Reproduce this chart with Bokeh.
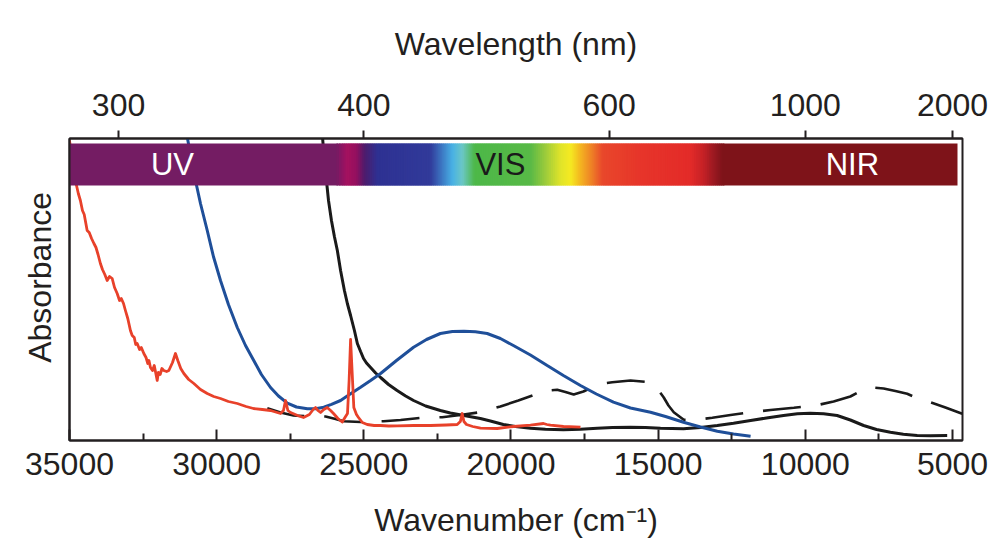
import numpy as np
from bokeh.plotting import figure
from bokeh.models import Range1d, LinearAxis, FixedTicker, CustomJSTickFormatter, ColumnDataSource
from bokeh.core.properties import value
from bokeh.embed import file_html
from bokeh.resources import INLINE

FONT = "Liberation Sans"
INK = "#231f20"

# ---- spectra: wavenumber (cm^-1) vs absorbance (arbitrary units) ----
red_wn = [35000, 34900, 34800, 34700, 34630, 34560, 34500, 34400, 34330, 34250,
          34170, 34100, 34030, 33950, 33880, 33800, 33720, 33640, 33550, 33470,
          33380, 33300, 33240, 33165, 33100, 33020, 32960, 32930, 32870, 32800,
          32750, 32700, 32620, 32560, 32475, 32400, 32340, 32300, 32250, 32180,
          32120, 32060, 32020, 31980, 31920, 31860, 31800, 31700, 31625, 31500,
          31400, 31320, 31220, 31115, 30950, 30775, 30550, 30320, 30100, 29870,
          29600, 29300, 29000, 28750, 28450, 28170, 27830, 27730, 27660, 27580,
          27490, 27250, 27050, 26850, 26720, 26640, 26560, 26470, 26360, 26245,
          26130, 26030, 25880, 25735, 25620, 25555, 25500, 25450, 25400, 25340,
          25250, 25181, 25050, 24885, 24650, 24435, 24150, 23867, 23300, 22735,
          22200, 21828, 21720, 21658, 21600, 21512, 21300, 21036, 20469, 19915,
          19337, 18896, 18780, 18658, 18216, 17638]
red_abs = [3.00, 2.78, 2.60, 2.47, 2.40, 2.30, 2.26, 2.10, 2.08, 2.02,
           1.97, 1.93, 1.86, 1.77, 1.71, 1.66, 1.60, 1.64, 1.62, 1.53,
           1.47, 1.40, 1.42, 1.37, 1.30, 1.22, 1.14, 1.10, 1.05, 1.03,
           0.96, 0.97, 0.91, 0.93, 0.87, 0.83, 0.77, 0.80, 0.73, 0.70,
           0.75, 0.66, 0.60, 0.68, 0.66, 0.72, 0.70, 0.69, 0.70, 0.78,
           0.87, 0.80, 0.72, 0.67, 0.61, 0.57, 0.51, 0.47, 0.44, 0.42,
           0.39, 0.37, 0.34, 0.32, 0.31, 0.30, 0.27, 0.30, 0.40, 0.30,
           0.28, 0.25, 0.23, 0.26, 0.31, 0.33, 0.30, 0.28, 0.31, 0.33,
           0.30, 0.27, 0.22, 0.185, 0.24, 0.27, 0.60, 1.01, 0.70, 0.33,
           0.26, 0.23, 0.18, 0.16, 0.15, 0.15, 0.145, 0.147, 0.15, 0.15,
           0.155, 0.16, 0.19, 0.27, 0.19, 0.16, 0.14, 0.123, 0.12, 0.14,
           0.153, 0.17, 0.16, 0.153, 0.14, 0.133]

blue_wn = [30990, 30855, 30720, 30550, 30320, 30110, 29870, 29600, 29300, 29020,
           28740, 28480, 28170, 27900, 27600, 27290, 26920, 26640, 26360, 26100,
           25790, 25450, 25110, 24770, 24430, 23890, 23310, 22870, 22400, 21990,
           21600, 21210, 20810, 20360, 19920, 19340, 18770, 18220, 17640, 17100,
           16520, 15940, 15260, 14750, 14140, 13560, 12990, 12440, 11860]
blue_abs = [3.02, 2.80, 2.60, 2.37, 2.10, 1.84, 1.60, 1.36, 1.13, 0.95,
            0.80, 0.66, 0.53, 0.445, 0.373, 0.335, 0.317, 0.318, 0.333, 0.362,
            0.40, 0.467, 0.533, 0.60, 0.67, 0.80, 0.933, 1.01, 1.07, 1.09,
            1.093, 1.087, 1.07, 1.02, 0.95, 0.855, 0.75, 0.65, 0.55, 0.465,
            0.383, 0.325, 0.283, 0.24, 0.183, 0.135, 0.093, 0.065, 0.043]

black_wn = [26400, 26340, 26270, 26200, 26100, 26000, 25900, 25790, 25660, 25560,
            25450, 25320, 25220, 25110, 25010, 24910, 24770, 24600, 24430, 24160,
            23870, 23580, 23310, 22900, 22400, 22060, 21600, 21040, 20700, 20260,
            19850, 19340, 18830, 18220, 17640, 17070, 16550, 15940, 15430, 14920,
            14140, 13560, 12990, 12440, 11860, 11320, 10740, 10270, 9830, 9380,
            8920, 8470, 8020, 7580, 7110, 6670, 6200, 5750, 5180]
black_abs = [3.02, 2.80, 2.60, 2.40, 2.20, 2.04, 1.90, 1.70, 1.50, 1.37,
             1.25, 1.10, 0.97, 0.89, 0.82, 0.775, 0.73, 0.675, 0.63, 0.56,
             0.50, 0.445, 0.40, 0.345, 0.30, 0.275, 0.25, 0.22, 0.195, 0.16,
             0.14, 0.123, 0.112, 0.107, 0.113, 0.123, 0.13, 0.133, 0.13, 0.123,
             0.117, 0.13, 0.15, 0.173, 0.20, 0.225, 0.25, 0.267, 0.273, 0.267,
             0.25, 0.205, 0.15, 0.11, 0.083, 0.062, 0.05, 0.048, 0.05]

dashed_wn = [28280, 27830, 27390, 26810, 26300, 25960, 25690, 25110, 24330, 23750,
             23020, 22340, 21720, 21040, 20360, 19750, 19110, 18730, 18430, 18150,
             17870, 17540, 17190, 16890, 16560, 15940, 15320, 15060, 14810, 14650,
             14470, 14130, 13660, 13160, 12540, 11860, 11180, 10390, 9650, 9040,
             8470, 8130, 7840, 7340, 6940, 6540, 6220, 5860, 5240, 4670]
dashed_abs = [0.323, 0.28, 0.25, 0.24, 0.24, 0.215, 0.193, 0.185, 0.193, 0.205,
              0.227, 0.233, 0.255, 0.283, 0.34, 0.40, 0.467, 0.50, 0.507, 0.485,
              0.46, 0.49, 0.54, 0.57, 0.583, 0.60, 0.583, 0.53, 0.43, 0.35,
              0.283, 0.207, 0.21, 0.227, 0.255, 0.283, 0.305, 0.327, 0.35, 0.39,
              0.44, 0.495, 0.533, 0.52, 0.495, 0.467, 0.425, 0.393, 0.33, 0.267]

# ---- axes ----
wavenumber_ticks = [35000, 30000, 25000, 20000, 15000, 10000, 5000]
wavenumber_minor = [32500, 27500, 22500, 17500, 12500, 7500]
wavelength_ticks_nm = [300, 400, 600, 1000, 2000]

# ---- spectral band strip ----
band_labels = ["UV", "VIS", "NIR"]
band_label_wn = [31500, 20360, 8400]
band_label_colors = ["white", "#1a1a1a", "white"]
strip_start, strip_end = 35000, 4830
strip_bottom, strip_top = 2.55, 2.97
strip_stops = [
    (35000, "#741c63"), (25930, "#741c63"), (25760, "#8c1463"), (25560, "#a6115f"),
    (25250, "#93105f"), (24980, "#4e1b6b"), (24540, "#2e3192"), (22740, "#313a9a"),
    (22400, "#3b6fbe"), (21990, "#48b1e5"), (21650, "#6cc7c6"), (21240, "#4db848"),
    (19340, "#58b947"), (18830, "#9ccb3b"), (18320, "#e0e42a"), (17980, "#f5ea21"),
    (17640, "#f4b520"), (17230, "#ee7c27"), (16890, "#e8472b"), (15600, "#e7352a"),
    (13900, "#e32b29"), (13460, "#c52126"), (13150, "#9f1a22"), (12810, "#7e1319"),
    (4830, "#7e1319"),
]


def hex_to_rgb(h):
    h = h.lstrip("#")
    return np.array([int(h[i:i + 2], 16) for i in (0, 2, 4)], dtype=float)


def rgb_to_hex(c):
    return "#%02x%02x%02x" % tuple(int(round(v)) for v in c)


# thin slices with linearly blended colours between neighbouring stops;
# each slice overlaps the next one slightly so no seams show through
sl_left, sl_right, sl_color = [], [], []
for (w0, c0), (w1, c1) in zip(strip_stops[:-1], strip_stops[1:]):
    same = c0 == c1
    n = 1 if same else max(1, int(abs(w0 - w1) / 60))
    a, b = hex_to_rgb(c0), hex_to_rgb(c1)
    edges = np.linspace(w0, w1, n + 1)
    for i in range(n):
        t = (i + 0.5) / n
        sl_left.append(edges[i])
        sl_right.append(max(strip_end, edges[i + 1] - 60))
        sl_color.append(rgb_to_hex(a + (b - a) * t))

p = figure(width=1005, height=555, output_backend="svg", toolbar_location=None,
           x_range=Range1d(35000, 4660), y_range=Range1d(0, 3.02),
           min_border_left=69, min_border_right=43, min_border_top=138,
           min_border_bottom=115, background_fill_color="white",
           border_fill_color="white")
p.grid.visible = False
p.outline_line_color = INK
p.outline_line_width = 2

# spectra
p.line(dashed_wn, dashed_abs, line_color="#1a1a1a", line_width=2.6, line_dash="38 20")
p.line(black_wn, black_abs, line_color="#1a1a1a", line_width=3)
p.line(blue_wn, blue_abs, line_color="#1f4f99", line_width=3)
p.line(red_wn, red_abs, line_color="#e8412a", line_width=2.8, line_join="round")

# band strip on top of the curves
p.quad(left=sl_left, right=sl_right, bottom=strip_bottom, top=strip_top,
       fill_color=sl_color, line_color=None)
lab_src = ColumnDataSource(dict(x=band_label_wn,
                                y=[(strip_bottom + strip_top) / 2] * 3,
                                text=band_labels, color=band_label_colors))
p.text(x="x", y="y", text="text", text_color="color", source=lab_src,
       text_font=value(FONT), text_font_size="31px",
       text_align="center", text_baseline="middle")

# bottom axis: wavenumber
xa = p.below[0]
xa.ticker = FixedTicker(ticks=wavenumber_ticks, minor_ticks=wavenumber_minor)
xa.axis_label = "Wavenumber (cm\u207b\u00b9)"
xa.major_tick_in = 11
xa.major_tick_out = 0
xa.minor_tick_in = 7
xa.minor_tick_out = 0
xa.major_label_standoff = 12
xa.axis_label_standoff = 24

# top axis: wavelength
ta = LinearAxis(ticker=FixedTicker(ticks=[1e7 / w for w in wavelength_ticks_nm]),
                formatter=CustomJSTickFormatter(code="return Math.round(1e7 / tick).toString();"),
                axis_label="Wavelength (nm)")
ta.major_tick_in = 0
ta.major_tick_out = 8
ta.minor_tick_in = 0
ta.minor_tick_out = 0
ta.major_label_standoff = 15
ta.axis_label_standoff = 29
p.add_layout(ta, "above")

# left axis: no ticks, title only (leading no-break spaces lift it a little)
ya = p.left[0]
ya.ticker = FixedTicker(ticks=[])
ya.major_tick_in = 0
ya.major_tick_out = 0
ya.minor_tick_in = 0
ya.minor_tick_out = 0
ya.major_label_standoff = 0
ya.axis_label = "\u00a0\u00a0\u2009Absorbance"
ya.axis_label_standoff = 12

for ax in (xa, ta, ya):
    ax.axis_line_color = INK
    ax.axis_line_width = 2
    ax.major_tick_line_color = INK
    ax.major_tick_line_width = 2
    ax.minor_tick_line_color = INK
    ax.minor_tick_line_width = 2
    ax.major_label_text_font = FONT
    ax.major_label_text_font_size = "32px" if ax is not ya else "0px"
    ax.major_label_text_color = INK
    ax.axis_label_text_font = FONT
    ax.axis_label_text_font_size = "32px"
    ax.axis_label_text_font_style = "normal"
    ax.axis_label_text_color = INK

open("out.html", "w").write(file_html(p, INLINE))
